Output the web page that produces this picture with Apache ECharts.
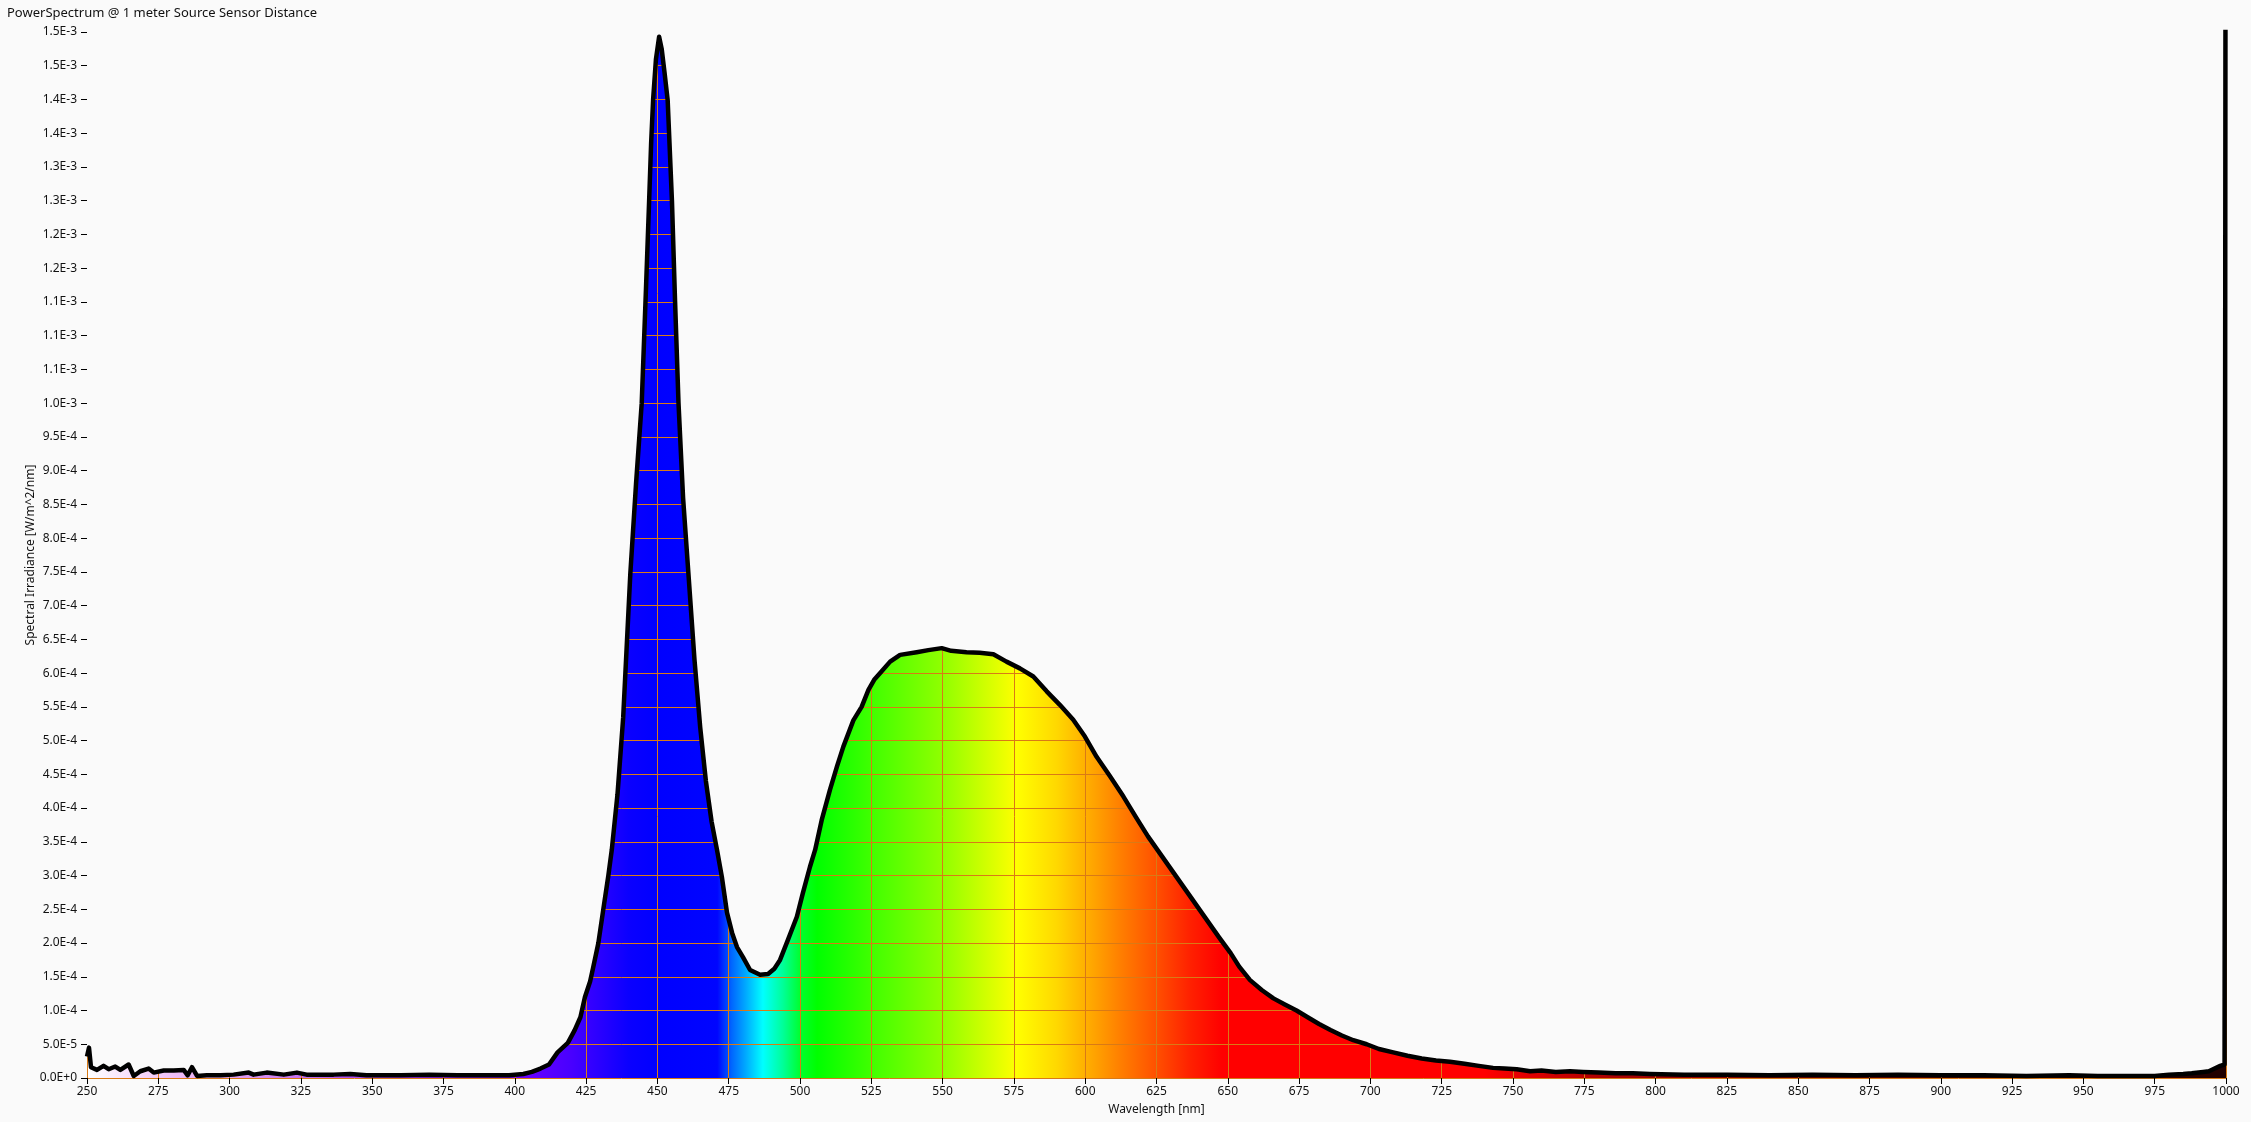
<!DOCTYPE html>
<html>
<head>
<meta charset="utf-8">
<title>PowerSpectrum</title>
<script src="https://cdn.jsdelivr.net/npm/echarts@6/dist/echarts.min.js"></script>
<style>
html, body {
  margin: 0;
  padding: 0;
  background: #fafafa;
}
#chart {
  width: 2251px;
  height: 1122px;
}
</style>
</head>
<body>
<div id="chart"></div>
<script>
// wavelength [nm]
let wavelengths = [
  250, 250.7, 251.4, 253.5, 255.8, 257.6, 259.9, 261.7, 264.6, 266.4,
  268.7, 271.6, 273.4, 276.9, 280.4, 283.9, 285.3, 286.8, 288.6, 292,
  296.8, 301.4, 306.7, 308.4, 313, 319, 323.6, 327, 336.5, 342.3,
  348, 360, 370, 380, 390, 398, 403, 406, 409, 412,
  415, 418.6, 421, 423, 424.6, 426.4, 427.5, 429.3, 431, 432.8,
  434, 436, 438, 440.5, 442.5, 444.5, 446, 447.1, 447.8, 448.5,
  449.5, 450.6, 451.5, 452.5, 453.6, 455.1, 456.2, 457.4, 459, 461,
  463, 465, 467, 469, 470.9, 472.6, 474.4, 476.2, 477.9, 480,
  482.5, 486, 488.8, 491, 493, 495.8, 498.9, 501, 503.5, 505.3,
  507.6, 510.5, 513, 515.2, 518.7, 521.6, 524, 526, 528.1, 531.6,
  535.1, 540.9, 545, 549.7, 553, 558.4, 563, 567.8, 572.4, 577.1,
  581.8, 586.5, 591.1, 595.8, 599.9, 604, 608.7, 613.4, 618, 622,
  627, 632, 637, 642, 647, 651, 654, 657.8, 662, 666,
  670, 674.1, 678, 682, 686, 690, 694, 698.7, 703, 708,
  713, 718, 723, 727.9, 733, 738, 743, 747, 751.3, 756,
  760, 765, 770, 774.6, 780, 786, 792, 798, 810, 825,
  840, 855, 870, 885, 900, 915, 930, 945, 955, 965,
  975, 980, 985, 988, 992, 994, 996, 998, 999.5, 1000
];

// spectral irradiance [W/m^2/nm]
let irradiance = [
  3.2e-5, 4.5e-5, 1.6e-5, 1.2e-5, 1.8e-5, 1.3e-5, 1.7e-5, 1.2e-5, 2.0e-5, 3e-6,
  1.0e-5, 1.4e-5, 8e-6, 1.1e-5, 1.1e-5, 1.2e-5, 4e-6, 1.6e-5, 3e-6, 4e-6,
  4e-6, 5e-6, 8e-6, 5e-6, 8e-6, 5e-6, 8e-6, 5e-6, 5e-6, 6e-6,
  4e-6, 4e-6, 5e-6, 4e-6, 4e-6, 4e-6, 6e-6, 9e-6, 1.4e-5, 2.0e-5,
  3.8e-5, 5.2e-5, 7.1e-5, 9.0e-5, 1.2e-4, 1.43e-4, 1.64e-4, 2.0e-4, 2.49e-4, 3.0e-4,
  3.38e-4, 4.2e-4, 5.34e-4, 7.47e-4, 8.8e-4, 1.0e-3, 1.17e-3, 1.3e-3, 1.385e-3, 1.45e-3,
  1.51e-3, 1.543e-3, 1.525e-3, 1.49e-3, 1.449e-3, 1.3e-3, 1.15e-3, 1.0e-3, 8.6e-4, 7.4e-4,
  6.2e-4, 5.2e-4, 4.4e-4, 3.8e-4, 3.38e-4, 2.98e-4, 2.45e-4, 2.15e-4, 1.94e-4, 1.79e-4,
  1.6e-4, 1.53e-4, 1.54e-4, 1.62e-4, 1.75e-4, 2.05e-4, 2.39e-4, 2.74e-4, 3.13e-4, 3.38e-4,
  3.82e-4, 4.27e-4, 4.62e-4, 4.91e-4, 5.3e-4, 5.5e-4, 5.75e-4, 5.9e-4, 6.0e-4, 6.17e-4,
  6.27e-4, 6.31e-4, 6.34e-4, 6.37e-4, 6.33e-4, 6.31e-4, 6.3e-4, 6.28e-4, 6.17e-4, 6.07e-4,
  5.95e-4, 5.73e-4, 5.53e-4, 5.31e-4, 5.06e-4, 4.76e-4, 4.47e-4, 4.17e-4, 3.85e-4, 3.58e-4,
  3.28e-4, 2.98e-4, 2.68e-4, 2.38e-4, 2.08e-4, 1.85e-4, 1.65e-4, 1.45e-4, 1.3e-4, 1.18e-4,
  1.09e-4, 1.0e-4, 9.0e-5, 8.0e-5, 7.1e-5, 6.3e-5, 5.6e-5, 5.0e-5, 4.3e-5, 3.8e-5,
  3.3e-5, 2.9e-5, 2.6e-5, 2.4e-5, 2.1e-5, 1.8e-5, 1.5e-5, 1.4e-5, 1.3e-5, 1.0e-5,
  1.1e-5, 9e-6, 1.0e-5, 9e-6, 8e-6, 7e-6, 7e-6, 6e-6, 5e-6, 5e-6,
  4e-6, 5e-6, 4e-6, 5e-6, 4e-6, 4e-6, 3e-6, 4e-6, 3e-6, 3e-6,
  3e-6, 5e-6, 6e-6, 7e-6, 9e-6, 1.0e-5, 1.4e-5, 1.8e-5, 2.0e-5, 2.5e-3
];

// y tick labels, from 0 upward in steps of 5E-5
let yTickLabels = [
  "0.0E+0", "5.0E-5", "1.0E-4", "1.5E-4", "2.0E-4", "2.5E-4", "3.0E-4", "3.5E-4",
  "4.0E-4", "4.5E-4", "5.0E-4", "5.5E-4", "6.0E-4", "6.5E-4", "7.0E-4", "7.5E-4",
  "8.0E-4", "8.5E-4", "9.0E-4", "9.5E-4", "1.0E-3", "1.1E-3", "1.1E-3", "1.1E-3",
  "1.2E-3", "1.2E-3", "1.3E-3", "1.3E-3", "1.4E-3", "1.4E-3", "1.5E-3", "1.5E-3"
];

// colour of the fill along the wavelength axis
let spectrumNm = [250, 280, 310, 340, 370, 400, 420, 440, 450, 471, 476, 481, 487, 494, 500, 506, 525, 550, 565, 576, 590, 600, 612, 625, 637, 648, 740, 780, 850, 1000];
let spectrumColors = [
  "#ffffff", "#f0c0f8", "#d890f0", "#b050f0", "#9020f8", "#7000ff", "#4800ff", "#0a00ff", "#0000ff", "#0005ff",
  "#0066ff", "#00aaff", "#00ffff", "#00ff99", "#00ff30", "#00ff00", "#40ff00", "#90ff00", "#d0ff00", "#ffff00",
  "#ffd800", "#ffb000", "#ff8000", "#ff5000", "#ff2000", "#ff0000", "#ff0000", "#b00000", "#700000", "#200000"
];

let xMin = 250, xMax = 1000;
let points = wavelengths.map((w, i) => [w, irradiance[i]]);
let stops = spectrumNm.map((w, i) => ({
  offset: (w - xMin) / (xMax - xMin),
  color: spectrumColors[i]
}));

let font = "Noto Sans";
let gridColor = "#d97a16";
let bg = "#fafafa";

let option = {
  animation: false,
  backgroundColor: bg,
  title: {
    text: "PowerSpectrum @ 1 meter Source Sensor Distance",
    left: 2,
    top: 2,
    textStyle: {
      fontFamily: font,
      fontSize: 13,
      fontWeight: "normal",
      color: "#111"
    }
  },
  grid: {
    left: 87,
    right: 25,
    top: 32,
    bottom: 44
  },
  xAxis: {
    type: "value",
    min: xMin,
    max: xMax,
    interval: 25,
    z: 3,
    name: "Wavelength [nm]",
    nameLocation: "middle",
    nameGap: 26,
    nameTextStyle: {
      fontFamily: font,
      fontSize: 12,
      color: "#111"
    },
    axisLine: { show: false },
    axisTick: {
      show: true,
      length: 6,
      lineStyle: { color: "#000" }
    },
    axisLabel: {
      fontFamily: font,
      fontSize: 12,
      color: "#111",
      margin: 8,
      formatter: function (v) {
        return String(v);
      }
    },
    splitLine: {
      show: true,
      lineStyle: { color: gridColor, width: 1 }
    }
  },
  yAxis: {
    type: "value",
    min: 0,
    max: 1.55e-3,
    interval: 5e-5,
    z: 3,
    name: "Spectral Irradiance [W/m^2/nm]",
    nameLocation: "middle",
    nameGap: 50,
    nameMoveOverlap: false,
    nameTextStyle: {
      fontFamily: font,
      fontSize: 12,
      color: "#111"
    },
    axisLine: { show: false },
    axisTick: {
      show: true,
      length: 6,
      lineStyle: { color: "#000" }
    },
    axisLabel: {
      fontFamily: font,
      fontSize: 12,
      color: "#111",
      margin: 10,
      formatter: function (v) {
        return yTickLabels[Math.round(v / 5e-5)] || "";
      }
    },
    splitLine: {
      show: true,
      lineStyle: { color: gridColor, width: 1 }
    }
  },
  series: [
    {
      // coloured fill under the curve
      name: "fill",
      type: "line",
      z: 2,
      data: points,
      showSymbol: false,
      lineStyle: { width: 0 },
      areaStyle: {
        opacity: 1,
        color: new echarts.graphic.LinearGradient(0, 0, 1, 0, stops)
      }
    },
    {
      // hides the grid above the curve
      name: "mask",
      type: "line",
      z: 4,
      data: points,
      showSymbol: false,
      lineStyle: { width: 0 },
      areaStyle: {
        origin: "end",
        opacity: 1,
        color: bg
      }
    },
    {
      name: "curve",
      type: "line",
      z: 5,
      data: points,
      showSymbol: false,
      lineStyle: { width: 4.5, color: "#000", join: "round" }
    }
  ]
};

let myChart = echarts.init(document.getElementById("chart"));
myChart.setOption(option);
</script>
</body>
</html>
